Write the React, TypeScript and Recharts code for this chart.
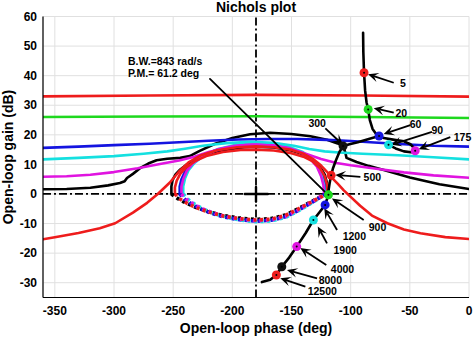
import React from "react";
import {
  ComposedChart, Line, XAxis, YAxis, CartesianGrid,
  ReferenceLine, ReferenceDot, Label
} from "recharts";

type Pt = [number, number];

if (typeof document !== "undefined") document.body.style.margin = "0";

const FONT = "'Liberation Sans', Arial, Helvetica, sans-serif";

const xTicks = [-350, -300, -250, -200, -150, -100, -50, 0];
const yTicks = [-30, -20, -10, 0, 10, 20, 30, 40, 50, 60];

// nearly flat high-gain lines
const redFlat: Pt[] = [[-360, 33.0], [-270, 33.3], [-180, 33.5], [-90, 33.3], [0, 32.9]];
const greenFlat: Pt[] = [[-360, 26.0], [-270, 26.2], [-180, 26.3], [-90, 26.0], [0, 25.7]];

// open-loop curves of each loop (solid)
const blackSys: Pt[] = [
  [-360, 1.6], [-340, 1.7], [-320, 2.1], [-305, 2.9], [-295, 3.7], [-291, 4.3], [-289, 5.4],
  [-284, 6.8], [-278, 8.7], [-271, 10.3], [-264, 11.4], [-255, 11.9], [-244, 12.2], [-236, 12.8],
  [-228, 14.5], [-215, 16.9], [-200, 18.9], [-185, 20.2], [-168, 20.7], [-150, 20.3], [-134, 19.5],
  [-120, 18.3], [-111, 17.1], [-106.4, 16.2], [-104.5, 14], [-103.5, 12.2], [-95, 10.8],
  [-85, 9.5], [-72, 8.1], [-50, 5.6], [-25, 3.3], [0, 1.7],
];
const magentaSys: Pt[] = [
  [-360, 5.8], [-340, 6.0], [-320, 6.5], [-300, 7.4], [-280, 8.7], [-260, 10.2], [-245, 11.3],
  [-232, 12.6], [-220, 14.2], [-205, 15.6], [-190, 16.5], [-180, 16.7], [-165, 16.3], [-150, 15.2],
  [-138, 13.6], [-125, 11.8], [-112, 10.5], [-100, 9.7], [-80, 8.6], [-55, 7.3], [-30, 6.3], [0, 5.5],
];
const cyanSys: Pt[] = [
  [-360, 11.7], [-330, 12.2], [-300, 12.8], [-275, 13.6], [-255, 14.4], [-240, 15.3], [-225, 16.3],
  [-205, 17.2], [-185, 17.6], [-165, 17.3], [-148, 16.3], [-135, 15.2], [-122, 14.4], [-110, 14.0],
  [-90, 13.6], [-60, 13.1], [-30, 12.4], [0, 11.7],
];
const blueSys: Pt[] = [
  [-360, 15.6], [-330, 16.0], [-300, 16.5], [-270, 17.0], [-245, 17.5], [-220, 18.0], [-195, 18.4],
  [-170, 18.6], [-145, 18.6], [-120, 18.3], [-100, 17.9], [-80, 17.4], [-55, 16.8], [-30, 16.3], [0, 16.0],
];
const redSys: Pt[] = [
  [-360, -15.3], [-350, -14.6], [-330, -13.2], [-312, -11.6], [-299, -9.9], [-284, -6.3], [-272, -3],
  [-263, 0], [-253, 3.8], [-245, 7.6], [-237, 10.7], [-227, 13], [-213, 14.8], [-196, 15.8],
  [-180, 16.1], [-165, 15.8], [-150, 14.9], [-140, 13.6], [-132, 11.9], [-125, 9.6], [-120, 7.5],
  [-116, 5.5], [-111, 3.5], [-106, 1.3], [-100, -1], [-92, -4], [-82, -7.3], [-69, -9.9],
  [-55, -12], [-41, -13.3], [-20, -14.6], [0, -15.2],
];

// closed contours: upper halves (solid)
const blackUp: Pt[] = [
  [-251.5, 0], [-251.5, 2.5], [-250.5, 4.7], [-248, 6.6], [-244, 8.3], [-238, 10.1], [-230, 11.9],
  [-220, 13.5], [-205, 15], [-190, 15.8], [-180, 16], [-165, 15.7], [-150, 14.7], [-140, 13.4],
  [-132, 11.5], [-126, 9.2], [-122, 6.6], [-120, 3.8], [-119.5, 1.5], [-119.5, 0],
];
const redUp: Pt[] = [
  [-248.5, 0], [-248.5, 2.2], [-247, 4.5], [-244, 6.8], [-239, 9], [-232, 11], [-222, 12.8],
  [-208, 14.2], [-193, 14.9], [-180, 15], [-165, 14.7], [-150, 13.8], [-140, 12.6], [-132, 11],
  [-126, 8.8], [-122, 6], [-120, 3.2], [-119.5, 0],
];
const magentaUp: Pt[] = [
  [-243, 0], [-243, 2.5], [-241.5, 5], [-238.5, 7.8], [-233.5, 10.3], [-225, 12.8], [-213, 15],
  [-198, 16.3], [-183, 16.8], [-168, 16.6], [-153, 15.6], [-142, 14], [-134, 11.8], [-128.5, 9.2],
  [-125, 6], [-123, 3], [-122.5, 0],
];
const blueUp: Pt[] = [
  [-244.5, 0], [-244.5, 2.5], [-243, 5], [-240, 7.6], [-235, 10], [-227, 12.5], [-215, 14.6],
  [-200, 16], [-185, 16.6], [-170, 16.6], [-155, 15.8], [-143, 14.4], [-134, 12.3], [-128, 9.8],
  [-124, 6.8], [-121.8, 3.5], [-121, 0],
];
const cyanUp: Pt[] = [
  [-241.5, 0], [-241.5, 2.5], [-240, 5.2], [-237, 8], [-232, 10.5], [-224, 13], [-212, 15.2],
  [-197, 16.6], [-182, 17.1], [-167, 16.9], [-152, 15.9], [-141, 14.3], [-133, 12], [-128, 9.3],
  [-124.5, 6], [-122.5, 3], [-122, 0],
];

// closed contours: lower halves (dotted)
const blackLow: Pt[] = [
  [-251.5, 0], [-246, -1.6], [-239, -3.1], [-231, -4.5], [-221, -5.9], [-209, -7.2], [-195, -8.1],
  [-180, -8.6], [-167, -8.3], [-155, -7.1], [-145, -5.1], [-135, -3], [-127, -1.3], [-119.5, 0],
];
const magentaLow: Pt[] = [
  [-243, 0], [-239, -1.8], [-233, -3.4], [-226, -4.9], [-217, -6.3], [-206, -7.6], [-194, -8.5],
  [-180, -9.0], [-167, -8.7], [-155, -7.5], [-145, -5.5], [-136, -3.4], [-128, -1.6], [-122.5, 0],
];
const blueLow: Pt[] = [
  [-244.5, 0], [-240, -1.9], [-234, -3.5], [-227, -5], [-218, -6.5], [-207, -7.8], [-194, -8.7],
  [-180, -9.2], [-167, -8.9], [-155, -7.7], [-145, -5.7], [-136, -3.6], [-128, -1.7], [-121, 0],
];
const cyanLow: Pt[] = [
  [-241.5, 0], [-237, -2], [-231, -3.7], [-224, -5.2], [-215, -6.7], [-204, -8], [-192, -8.9],
  [-180, -9.4], [-167, -9.1], [-155, -7.9], [-145, -5.9], [-136, -3.8], [-128, -1.8], [-122, 0],
];
const redLow: Pt[] = [
  [-248.5, 0], [-244, -1.8], [-238, -3.2], [-230, -4.7], [-220, -6.1], [-208, -7.4], [-195, -8.3],
  [-180, -8.8], [-167, -8.5], [-155, -7.2], [-145, -5.2], [-135, -3.1], [-127, -1.4], [-119.5, 0],
];

// measured frequency response (black, with markers)
const respTop: Pt[] = [
  [-89.5, 54.5], [-89.3, 48], [-88.7, 41], [-87.8, 35], [-86.6, 31], [-85.2, 28.6], [-83.8, 25],
  [-81.5, 22], [-78.5, 20.3], [-76, 19.6],
];
const respLoop: Pt[] = [
  [-76, 19.6], [-72, 18.9], [-63, 18.3], [-55, 17.8], [-49.5, 16.8], [-46.5, 15.6], [-45.5, 14.6],
  [-49, 14.1], [-55, 14.4], [-62, 15.4], [-68, 16.6],
];
const respLow: Pt[] = [
  [-76, 19.6], [-84, 18.7], [-94, 17.5], [-101, 16.8], [-106.4, 16.2], [-109.5, 14.2], [-112.5, 11.3],
  [-115, 8.6], [-116.5, 6.3], [-117.8, 3.6], [-118.8, 1], [-118.8, -0.3], [-121.6, -3.7], [-126, -6],
  [-131.5, -8.8], [-138, -13.2], [-145.6, -17.8], [-152, -21.5], [-158.2, -24.6], [-162.8, -27.4],
  [-168, -29], [-175, -29.8],
];

const crossH: Pt[] = [[-189.5, 0], [-170, 0]];
const crossV: Pt[] = [[-180, -2.6], [-180, 2.4]];
const pmLine: Pt[] = [[-218.9, 38.9], [-121.7, 0.7]];

// frequency markers (rad/s)
const freqLabels = ["5", "20", "60", "90", "175", "300", "500", "900", "1200", "1900", "4000", "8000", "12500"];
const freqPts: Pt[] = [
  [-88.7, 41], [-85.2, 28.6], [-76, 19.6], [-68, 16.6], [-45.5, 14.6], [-106.4, 16.2], [-116.5, 6.3],
  [-118.8, -0.3], [-121.6, -3.7], [-131.5, -8.8], [-145.6, -17.8], [-158.2, -24.6], [-162.8, -27.4],
];
const freqColors = ["#ee1c1c", "#1ed81e", "#1414e0", "#14e0e0", "#e014e0", "#111", "#ee1c1c",
  "#1ed81e", "#1414e0", "#14e0e0", "#e014e0", "#111", "#ee1c1c"];
const labelPts: Pt[] = [
  [-55.9, 37.6], [-57.2, 27.5], [-45.2, 23.5], [-26.8, 21.7], [-5.5, 19.1], [-128.3, 24.1], [-81.7, 5.7],
  [-77.3, -11.1], [-96.9, -14.1], [-104.6, -18.9], [-106.9, -25.5], [-117.2, -29.2], [-124, -32.9],
];
const arrowTails: Pt[] = [
  [-63.6, 37.6], [-63.6, 27.5], [-49.6, 23.3], [-31.3, 21.0], [-15.8, 19.2], [-121.4, 22.2], [-91.8, 5.8],
  [-89, -8.8], [-111.5, -12.2], [-120, -16.7], [-120.6, -24.0], [-128.4, -28.5], [-138.3, -31.3],
];
const arrowTips: Pt[] = [
  [-85.3, 40.5], [-80.5, 29.0], [-72.1, 20.3], [-65.9, 16.6], [-42.5, 15.1], [-106.5, 16.6], [-113, 6.4],
  [-115.8, -1.5], [-122.3, -4.8], [-127.8, -11.0], [-142.6, -18.3], [-153.8, -25.7], [-159.5, -28.5],
];

const RED = "#ee1c1c", GREEN = "#1ed81e", BLUE = "#1414e0", CYAN = "#14e0e0", MAGENTA = "#e014e0", BLACK = "#000";

const rows = (pts: Pt[]) => pts.map(([x, y]) => ({ x, y }));

const curve = (key: string, pts: Pt[], color: string, width = 2.6, dash?: string) => (
  <Line
    key={key}
    data={rows(pts)}
    dataKey="y"
    type="linear"
    stroke={color}
    strokeWidth={width}
    strokeDasharray={dash}
    strokeLinejoin="round"
    strokeLinecap={dash ? "butt" : "round"}
    dot={false}
    activeDot={false}
    legendType="none"
    isAnimationActive={false}
  />
);

const ArrowShape = (p: any) => {
  const { x1, y1, x2, y2 } = p;
  const a = Math.atan2(y2 - y1, x2 - x1);
  const c = Math.cos(a), s = Math.sin(a);
  const L = 10.5, W = 4.8, N = 6;
  const bx = x2 - L * c, by = y2 - L * s;
  const nx = x2 - N * c, ny = y2 - N * s;
  return (
    <g>
      <line x1={x1} y1={y1} x2={nx} y2={ny} stroke="#000" strokeWidth={1.8} />
      <path
        d={`M${x2},${y2}L${bx - W * s},${by + W * c}L${nx},${ny}L${bx + W * s},${by - W * c}Z`}
        fill="#000"
      />
    </g>
  );
};

const textStyle = { fontFamily: FONT, fontWeight: 700, fill: "#000" } as const;

export default function App() {
  return (
    <div style={{ position: "relative", width: 474, height: 337, background: "#fff" }}>
      <div
        style={{
          position: "absolute", left: 43, top: -1, width: 426, textAlign: "center",
          fontFamily: FONT, fontWeight: 700, fontSize: 14, lineHeight: "16px", color: "#000",
        }}
      >
        Nichols plot
      </div>
      <ComposedChart width={474} height={337} margin={{ top: 16.5, right: 5, bottom: 0, left: 0 }}>
        <CartesianGrid stroke="#e0e0e0" strokeWidth={1} />
        <XAxis
          type="number" dataKey="x" domain={[-360, 0]} ticks={xTicks} allowDataOverflow
          height={39.5} tickLine={false} tickSize={4} tickMargin={5}
          axisLine={{ stroke: "#000", strokeWidth: 1.2 }}
          tick={{ ...textStyle, fontSize: 12 }}
        >
          <Label
            content={(props: any) => {
              const vb = props.viewBox;
              return (
                <text x={vb.x + vb.width / 2} y={vb.y + vb.height - 4.5} textAnchor="middle"
                  style={{ ...textStyle, fontSize: 14 }}>Open-loop phase (deg)</text>
              );
            }}
          />
        </XAxis>
        <XAxis xAxisId="bot" orientation="bottom" type="number" domain={[-360, 0]} ticks={xTicks}
          allowDataOverflow mirror height={0} tick={false} tickSize={4} axisLine={false}
          tickLine={{ stroke: "#000" }} />
        <XAxis xAxisId="top" orientation="top" type="number" domain={[-360, 0]} ticks={xTicks}
          allowDataOverflow mirror height={0} tick={false} tickSize={4}
          axisLine={{ stroke: "#000", strokeWidth: 1.2 }} tickLine={{ stroke: "#000" }} />
        <YAxis
          type="number" domain={[-35, 60]} ticks={yTicks} allowDataOverflow
          width={43} tickLine={false} tickSize={4} tickMargin={2}
          axisLine={{ stroke: "#000", strokeWidth: 1.2 }}
          tick={{ ...textStyle, fontSize: 12 }}
        >
          <Label
            content={(props: any) => {
              const vb = props.viewBox;
              const cx = vb.x + 8;
              const cy = vb.y + vb.height / 2;
              return (
                <text x={cx} y={cy} textAnchor="middle" dominantBaseline="central"
                  transform={`rotate(-90 ${cx} ${cy})`}
                  style={{ ...textStyle, fontSize: 14 }}>Open-loop gain (dB)</text>
              );
            }}
          />
        </YAxis>
        <YAxis yAxisId="lft" orientation="left" type="number" domain={[-35, 60]} ticks={yTicks}
          allowDataOverflow mirror width={0} tick={false} tickSize={4} axisLine={false}
          tickLine={{ stroke: "#000" }} />
        <YAxis yAxisId="rgt" orientation="right" type="number" domain={[-35, 60]} ticks={yTicks}
          allowDataOverflow mirror width={0} tick={false} tickSize={4}
          axisLine={{ stroke: "#000", strokeWidth: 1.2 }} tickLine={{ stroke: "#000" }} />

        <ReferenceLine x={-180} stroke="#000" strokeWidth={1.8} strokeDasharray="8 3 2 3" />
        <ReferenceLine y={0} stroke="#000" strokeWidth={1.8} strokeDasharray="8 3 2 3" />

        {curve("redFlat", redFlat, RED)}
        {curve("greenFlat", greenFlat, GREEN)}

        {curve("blackUp", blackUp, BLACK)}
        {curve("blueUp", blueUp, BLUE)}
        {curve("cyanUp", cyanUp, CYAN)}
        {curve("magentaUp", magentaUp, MAGENTA)}
        {curve("redUp", redUp, RED)}

        {curve("blackSys", blackSys, BLACK)}
        {curve("blueSys", blueSys, BLUE)}
        {curve("cyanSys", cyanSys, CYAN)}
        {curve("magentaSys", magentaSys, MAGENTA)}
        {curve("redSys", redSys, RED)}

        {curve("blackLow", blackLow, BLACK, 3.6, "3 3.5")}
        {curve("cyanLow", cyanLow, CYAN, 3.6, "3 3.5")}
        {curve("blueLow", blueLow, BLUE, 3.6, "3 3.5")}
        {curve("magentaLow", magentaLow, MAGENTA, 3.6, "3 3.5")}
        {curve("redLow", redLow, RED, 3.6, "3 3.5")}

        {curve("crossH", crossH, BLACK, 2.4)}
        {curve("crossV", crossV, BLACK, 2.4)}
        {curve("pmLine", pmLine, BLACK, 1.8)}

        {curve("respTop", respTop, BLACK, 2.6)}
        {curve("respLoop", respLoop, BLACK, 2.6)}
        {curve("respLow", respLow, BLACK, 2.6)}

        {freqLabels.map((f, i) => (
          <ReferenceLine
            key={`arr-${f}`}
            segment={[{ x: arrowTails[i][0], y: arrowTails[i][1] }, { x: arrowTips[i][0], y: arrowTips[i][1] }]}
            shape={ArrowShape}
          />
        ))}

        {freqPts.map(([x, y], i) => (
          <ReferenceDot
            key={`dot-${freqLabels[i]}`}
            x={x} y={y} r={4}
            shape={(p: any) => (
              <g>
                <circle cx={p.cx} cy={p.cy} r={4.5} fill={freqColors[i]} />
                <circle cx={p.cx} cy={p.cy} r={1} fill="#000" />
              </g>
            )}
          />
        ))}

        {labelPts.map(([x, y], i) => (
          <ReferenceDot
            key={`lbl-${freqLabels[i]}`}
            x={x} y={y} r={1}
            shape={(p: any) => (
              <text x={p.cx} y={p.cy} textAnchor="middle" dominantBaseline="central"
                style={{ ...textStyle, fontSize: 10.5 }}>{freqLabels[i]}</text>
            )}
          />
        ))}

        <ReferenceDot
          x={-288.2} y={45} r={1}
          shape={(p: any) => (
            <text x={p.cx} y={p.cy} dominantBaseline="central"
              style={{ ...textStyle, fontSize: 10.5 }}>B.W.=843 rad/s</text>
          )}
        />
        <ReferenceDot
          x={-288.2} y={41} r={1}
          shape={(p: any) => (
            <text x={p.cx} y={p.cy} dominantBaseline="central"
              style={{ ...textStyle, fontSize: 10.5 }}>P.M.= 61.2 deg</text>
          )}
        />
      </ComposedChart>
    </div>
  );
}
